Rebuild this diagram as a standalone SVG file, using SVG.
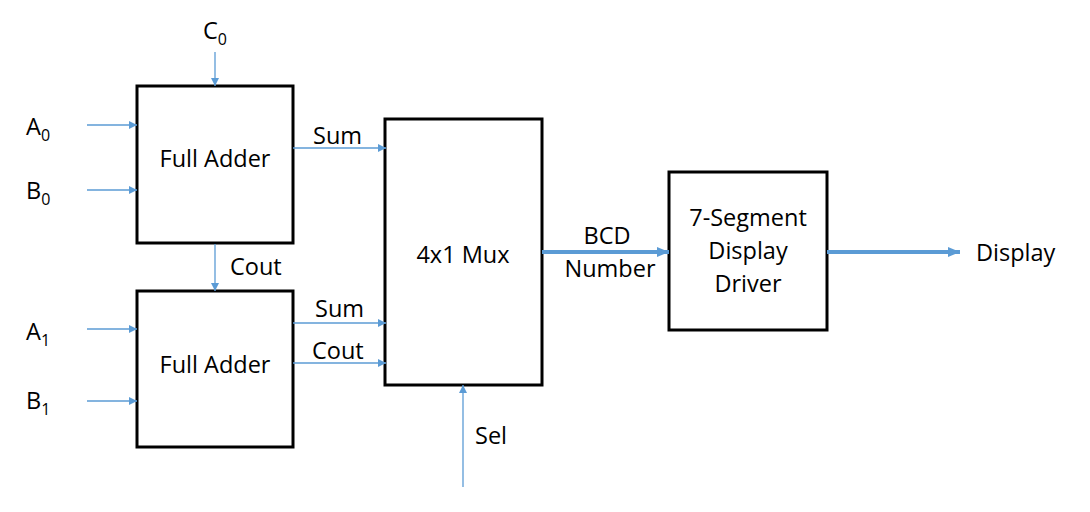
<svg xmlns="http://www.w3.org/2000/svg" width="1090" height="512" viewBox="0 0 1090 512">
<style>
text{font-family:"Open Sans","Liberation Sans",sans-serif;font-size:23.5px;fill:#000}
.c{text-anchor:middle}
.sub{font-size:16px}
rect{fill:#fff;stroke:#000;stroke-width:3}
.t{stroke:#5b9bd5;stroke-width:1.3;fill:none}
.k{stroke:#5b9bd5;stroke-width:4;fill:none}
</style>
<defs>
<marker id="a" markerWidth="8" markerHeight="8" refX="8" refY="4" orient="auto" markerUnits="userSpaceOnUse"><path d="M0,0L8,4L0,8z" fill="#5b9bd5"/></marker>
<marker id="b" markerWidth="12" markerHeight="10" refX="12" refY="5" orient="auto" markerUnits="userSpaceOnUse"><path d="M0,0L12,5L0,10z" fill="#5b9bd5"/></marker>
</defs>
<rect x="0" y="0" width="1090" height="512" style="stroke:none"/>
<g id="fa0"><rect x="137" y="86" width="156" height="157"/><text class="c" x="215" y="167">Full Adder</text></g>
<g id="fa1"><rect x="137" y="291" width="156" height="156"/><text class="c" x="215" y="373">Full Adder</text></g>
<g id="mux"><rect x="385" y="119" width="157" height="266"/><text class="c" x="463" y="263">4x1 Mux</text></g>
<g id="drv"><rect x="669" y="172" width="158" height="158"/><text class="c" x="748" y="226">7-Segment</text><text class="c" x="748" y="259">Display</text><text class="c" x="748" y="292">Driver</text></g>
<g id="connectors">
<line class="t" x1="87" y1="125" x2="137" y2="125" marker-end="url(#a)"/>
<line class="t" x1="87" y1="190" x2="137" y2="190" marker-end="url(#a)"/>
<line class="t" x1="87" y1="329" x2="137" y2="329" marker-end="url(#a)"/>
<line class="t" x1="87" y1="401" x2="137" y2="401" marker-end="url(#a)"/>
<line class="t" x1="215" y1="52" x2="215" y2="86" marker-end="url(#a)"/>
<line class="t" x1="215" y1="244" x2="215" y2="291" marker-end="url(#a)"/>
<line class="t" x1="293" y1="148" x2="386" y2="148" marker-end="url(#a)"/>
<line class="t" x1="293" y1="323" x2="386" y2="323" marker-end="url(#a)"/>
<line class="t" x1="293" y1="363" x2="386" y2="363" marker-end="url(#a)"/>
<line class="t" x1="463" y1="487" x2="463" y2="385" marker-end="url(#a)"/>
<line class="k" x1="542" y1="252" x2="669" y2="252" marker-end="url(#b)"/>
<line class="k" x1="827" y1="252" x2="960" y2="252" marker-end="url(#b)"/>
</g>
<g id="labels">
<text x="26" y="135">A<tspan class="sub" dy="6">0</tspan></text>
<text x="26" y="199">B<tspan class="sub" dy="6">0</tspan></text>
<text x="26" y="340">A<tspan class="sub" dy="6">1</tspan></text>
<text x="26" y="409">B<tspan class="sub" dy="6">1</tspan></text>
<text x="203" y="39">C<tspan class="sub" dy="6">0</tspan></text>
<text x="313" y="144">Sum</text>
<text x="230" y="275">Cout</text>
<text x="315" y="317">Sum</text>
<text x="312" y="359">Cout</text>
<text x="475" y="444">Sel</text>
<text class="c" x="607" y="244">BCD</text>
<text class="c" x="610" y="277">Number</text>
<text x="976" y="261">Display</text>
</g>
</svg>
